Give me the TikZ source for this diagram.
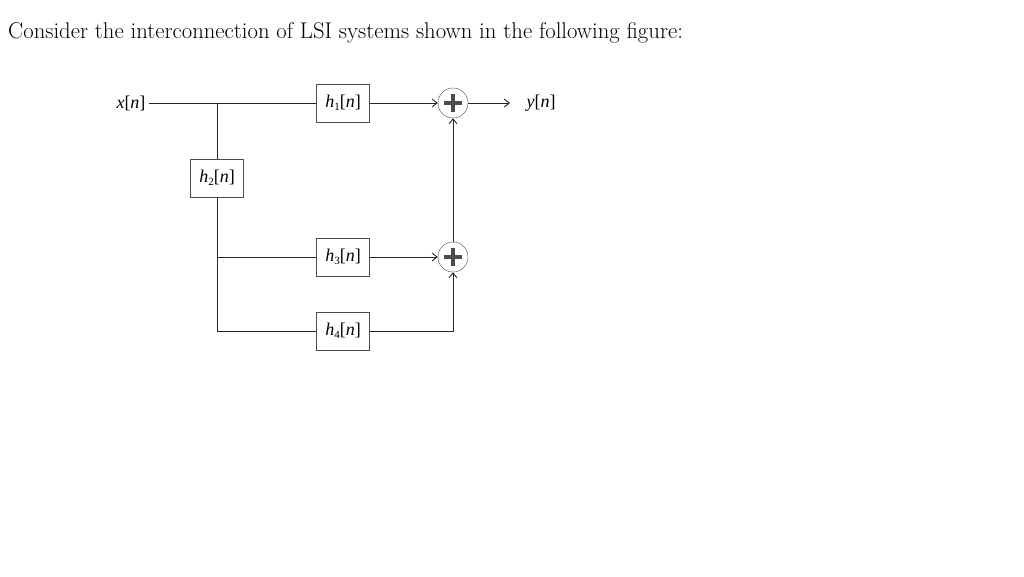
\documentclass[tikz,border=0pt]{standalone}
\usepackage{fontspec}
\newfontfamily\tnr{Liberation Serif}
\usetikzlibrary{arrows.meta}
\newcommand{\itl}[1]{{\tnr\itshape #1}}
\newcommand{\rml}[1]{{\tnr\upshape #1}}
\newcommand{\sbs}[1]{\raisebox{-3pt}{\tnr\upshape\fontsize{11}{11}\selectfont #1}}
\begin{document}
\begin{tikzpicture}[x=1pt,y=-1pt,
  blk/.style={draw=black!70,fill=white,minimum width=53pt,minimum height=38pt,inner sep=0pt,font=\tnr\fontsize{18}{18}\selectfont},
  sumn/.style={draw=black!70,circle,minimum size=30pt,inner sep=0pt},
  ln/.style={draw=black!85,line width=0.9pt},
  ar/.style={ln,-{Straight Barb[length=5pt,width=8pt]}},
  lab/.style={font=\tnr\fontsize{18}{18}\selectfont,inner sep=0pt}]
\useasboundingbox (0,0) rectangle (1024,576);
\node[anchor=west,inner sep=0pt,font=\fontsize{22.7}{24}\selectfont] (title) at (8,33) {Consider the interconnection of LSI systems shown in the following figure:};
\node[lab] (x) at (131,103) {\itl{x}[\itl{n}]};
\node[blk] (h1) at (343,103) {\itl{h}\sbs{1}[\itl{n}]};
\node[blk] (h2) at (217,178) {\itl{h}\sbs{2}[\itl{n}]};
\node[blk] (h3) at (343,257) {\itl{h}\sbs{3}[\itl{n}]};
\node[blk] (h4) at (343,331) {\itl{h}\sbs{4}[\itl{n}]};
\node[sumn] (s1) at (453,103) {};
\node[sumn] (s2) at (453,257) {};
\foreach \s in {s1,s2}{
  \draw[black!70,line width=3.6pt] ([xshift=-9pt]\s.center) -- ([xshift=9pt]\s.center);
  \draw[black!70,line width=3.6pt] ([yshift=-9pt]\s.center) -- ([yshift=9pt]\s.center);}
\node[lab] (y) at (541,103) {\itl{y}[\itl{n}]};
\coordinate (j1) at (217,103);
\coordinate (j2) at (217,257);
\coordinate (j3) at (217,331);
\coordinate (c4) at (453,331);
\coordinate (yend) at (510,103);
\draw[ln] (x.east)+(3pt,0) -- (h1.west);
\draw[ln] (j1) -- (h2.north);
\draw[ln] (h2.south) -- (j3) -- (h4.west);
\draw[ln] (j2) -- (h3.west);
\draw[ar] (h1.east) -- (s1.west);
\draw[ar] (h3.east) -- (s2.west);
\draw[ar] (h4.east) -- (c4) -- (s2.south);
\draw[ar] (s2.north) -- (s1.south);
\draw[ar] (s1.east) -- (yend);
\end{tikzpicture}
\end{document}
